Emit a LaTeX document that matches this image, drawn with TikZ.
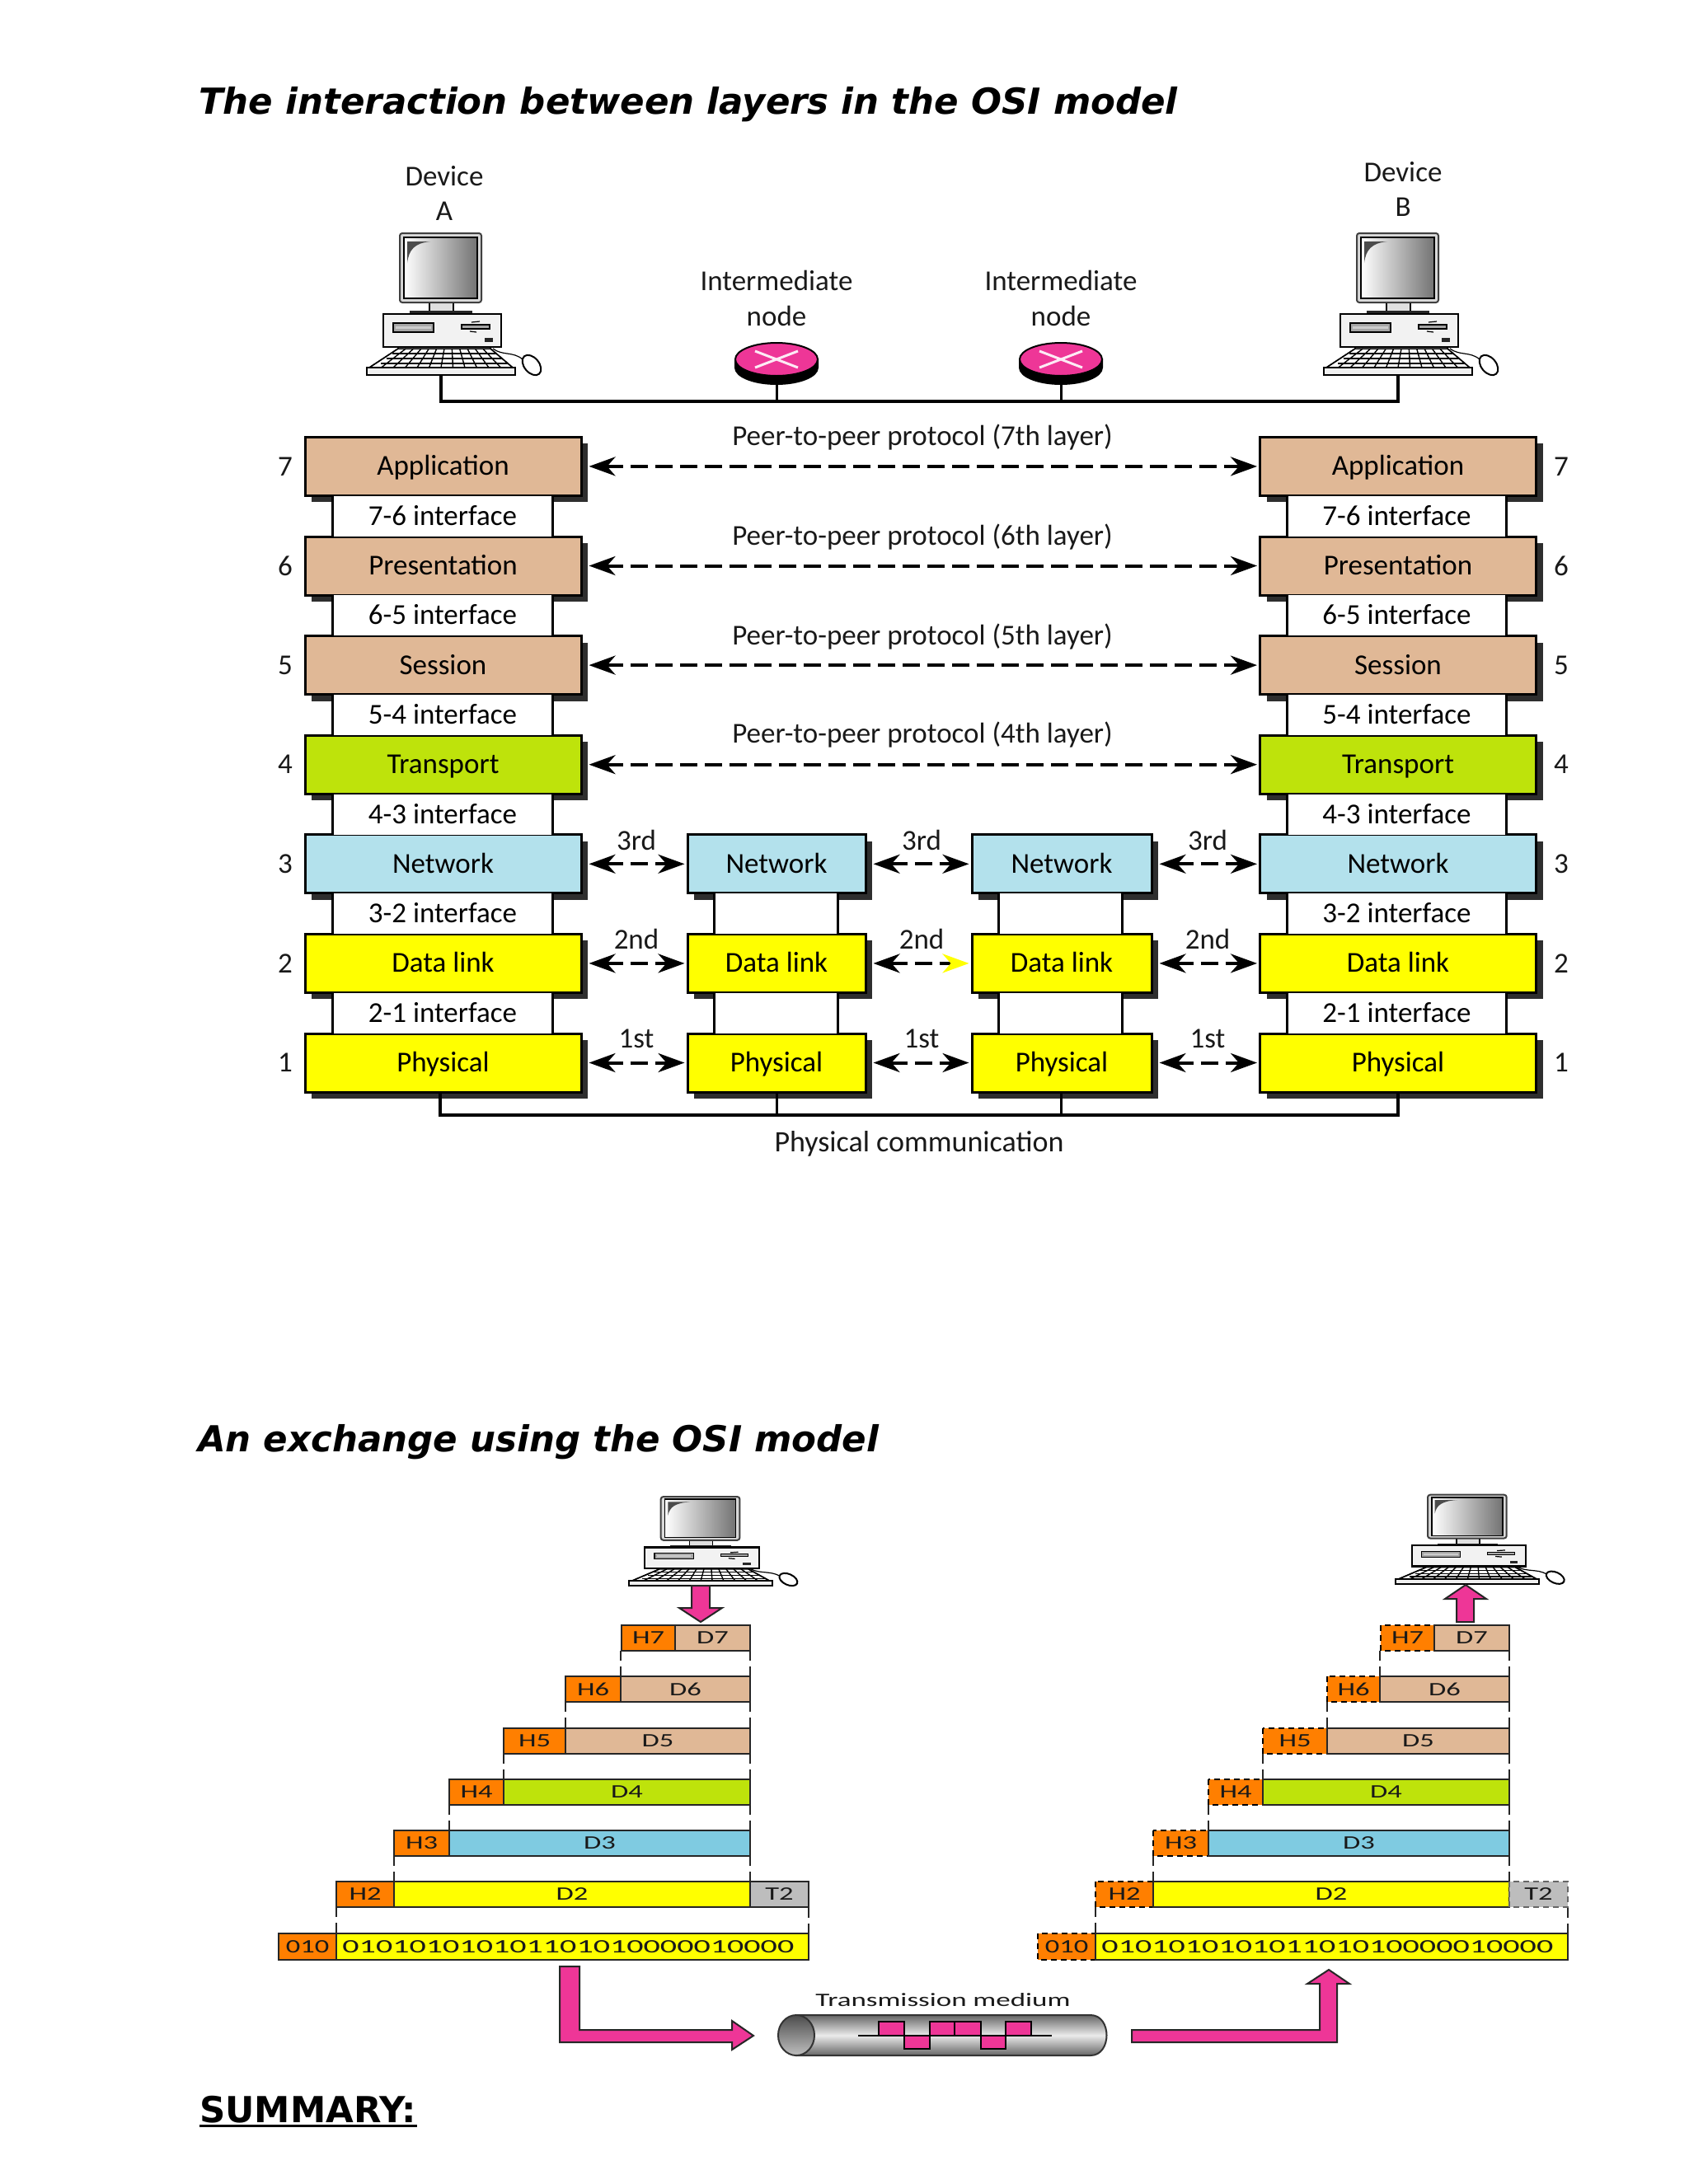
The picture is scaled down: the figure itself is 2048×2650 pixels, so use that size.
\documentclass[tikz,border=0pt]{standalone}
\usepackage{fontspec}
\setmainfont{Carlito}
\newfontfamily\dvfont{DejaVu Sans}
\usetikzlibrary{arrows.meta,shadows}
\definecolor{ctan}{HTML}{E0B896}
\definecolor{clime}{HTML}{BEE30B}
\definecolor{cblue}{HTML}{B3E1EC}
\definecolor{cyel}{HTML}{FFFF00}
\definecolor{corg}{HTML}{FF7F00}
\definecolor{cdthree}{HTML}{7FCBE1}
\definecolor{cgry}{HTML}{BDBDBD}
\definecolor{cpink}{HTML}{EE3697}
\tikzset{
  txt/.style={font=\fontsize{35}{42}\selectfont,inner sep=0pt,align=center,text=black!90},
  head/.style={font=\dvfont\bfseries\itshape\fontsize{43.5}{50}\selectfont,inner sep=0pt,anchor=west},
  layer/.style={draw=black,line width=3pt,minimum height=71pt,inner sep=0pt,
    font=\fontsize{35}{42}\selectfont,text height=26pt,text depth=4pt,
    drop shadow={shadow xshift=8pt,shadow yshift=-8pt,fill=black!82,opacity=1}},
  iface/.style={fill=white,inner sep=0pt,minimum height=49pt,font=\fontsize{35}{42}\selectfont,text height=26pt,text depth=4pt},
  wire/.style={line width=3pt,black},
  bus/.style={line width=4pt,black},
  peer/.style={line width=4pt,dash pattern=on 21pt off 9pt,shorten <=8pt,shorten >=2pt},
  cell/.style={draw=black!85,line width=2pt},
  hplain/.style={fill=corg,draw=black!85,line width=2pt},
  hdash/.style={fill=corg,draw=black,line width=2.5pt,dash pattern=on 7pt off 5pt},
  tdash/.style={fill=cgry,draw=black!60,line width=2.5pt,dash pattern=on 7pt off 5pt},
  lbl/.style={font=\fontsize{23}{26}\selectfont,xscale=1.5,inner sep=0pt,text=black!90},
  bits/.style={font=\fontsize{23}{26}\selectfont,xscale=1.74,xshift=-3pt,inner sep=0pt,text=black!90},
  tick/.style={line width=2pt,black!85},
  pinkarrow/.style={fill=cpink,draw=black!85,line width=2pt,line join=miter},
  ptips/.style={{Stealth[length=32pt,width=23pt,inset=10pt]}-{Stealth[length=32pt,width=23pt,inset=10pt]}},
}
\newcommand{\pcdraw}{%
  \draw[line width=1.5pt,fill=black!12] (521,367) rectangle (550,378);
  \fill[black!85] (497,377) rectangle (573,382);
  \draw[line width=2pt,draw=black!75,fill=black!15,rounded corners=3pt] (485,283) rectangle (584,367);
  \draw[line width=1.5pt,left color=white,right color=black!55] (490,288) rectangle (579,362);
  \fill[black!70] (494,293) -- (522,293) .. controls (503,295) and (496,303) .. (494,319) -- cycle;
  \draw[line width=2.2pt,fill=black!5] (465,381) rectangle (608,421);
  \draw[line width=1.2pt,fill=black!35] (477,392) rectangle (526,403);
  \fill[black!20] (480,396) rectangle (523,399);
  \draw[line width=1.2pt,fill=black!35] (560,394) rectangle (594,399);
  \draw[line width=1.2pt] (572,391) -- (582,390) (570,402) -- (578,403);
  \fill[black!85] (588,410) rectangle (598,415);
  \draw[line width=1.5pt] (483,421) -- (483,425) (595,421) -- (595,425);
  \draw[line width=1.5pt,fill=white] (483,423) -- (595,423) -- (622,446) -- (448,446) -- cycle;
  \foreach \i in {0,...,12} {
    \draw[line width=1.4pt] ({483+\i*112/12},423) -- ({448+\i*174/12},446);
  }
  \draw[line width=1.4pt] (476,429) -- (602,429) (469,435) -- (609,435) (462,441) -- (616,441);
  \draw[line width=2pt,fill=black!6] (445,446) rectangle (625,455);
  \draw[line width=1.2pt] (598,423) .. controls (610,432) and (622,426) .. (634,436);
  \draw[line width=2pt,fill=white,rotate around={-50:(645,443)}] (645,443) ellipse [x radius=14,y radius=9];
}
\newcommand{\router}[2]{%
  \draw[line width=2pt,fill=black] (#1-50,#2+10) arc[start angle=180,end angle=360,x radius=50,y radius=-20] -- ++(0,-10) -- (#1-50,#2) -- cycle;
  \draw[line width=2pt,fill=cpink] (#1,#2) ellipse [x radius=50,y radius=20];
  \draw[line width=3pt,white!90!cpink] (#1-26,#2-10) -- (#1+26,#2+10) (#1-26,#2+10) -- (#1+26,#2-10);
}
\newcommand{\ticks}[2]{%
  \draw[tick] (#1,#2) -- (#1,#2+12) (#1,#2+19) -- (#1,#2+31);
}
\newcommand{\stack}[4]{% prefix, header style, trailer style, H6 left edge
  \draw[#2] (754,1972) rectangle (819,2003) node[midway,lbl] (#1h7) {H7};
  \draw[cell,fill=ctan] (819,1972) rectangle (910,2003) node[midway,lbl] (#1d7) {D7};
  \draw[#2] (#4,2034) rectangle (753,2065) node[midway,lbl] (#1h6) {H6};
  \draw[cell,fill=ctan] (753,2034) rectangle (910,2065) node[midway,lbl] (#1d6) {D6};
  \draw[#2] (611,2097) rectangle (#4,2128) node[midway,lbl] (#1h5) {H5};
  \draw[cell,fill=ctan] (#4,2097) rectangle (910,2128) node[midway,lbl] (#1d5) {D5};
  \draw[#2] (545,2159) rectangle (611,2190) node[midway,lbl] (#1h4) {H4};
  \draw[cell,fill=clime] (611,2159) rectangle (910,2190) node[midway,lbl] (#1d4) {D4};
  \draw[#2] (478,2221) rectangle (545,2252) node[midway,lbl] (#1h3) {H3};
  \draw[cell,fill=cdthree] (545,2221) rectangle (910,2252) node[midway,lbl] (#1d3) {D3};
  \draw[#2] (408,2283) rectangle (478,2314) node[midway,lbl] (#1h2) {H2};
  \draw[cell,fill=cyel] (478,2283) rectangle (910,2314) node[midway,lbl] (#1d2) {D2};
  \draw[#3] (910,2283) rectangle (981,2314) node[midway,lbl] (#1t2) {T2};
  \draw[#2] (338,2346) rectangle (408,2378) node[midway,lbl] (#1h1) {010};
  \draw[cell,fill=cyel] (408,2346) rectangle (981,2378) node[midway,bits] (#1d1) {010101010101101010000010000};
  \ticks{753}{2003}\ticks{910}{2003}
  \ticks{#4}{2065}\ticks{910}{2065}
  \ticks{611}{2128}\ticks{910}{2128}
  \ticks{545}{2190}\ticks{910}{2190}
  \ticks{478}{2252}\ticks{910}{2252}
  \ticks{408}{2314}\ticks{981}{2315}
}
\begin{document}
\begin{tikzpicture}[x=1pt,y=-1pt]
\useasboundingbox (0,0) rectangle (2048,2650);
\fill[white] (0,0) rectangle (2048,2650);
% headings
\node[head] (title1) at (241,127) {The interaction between layers in the OSI model};
\node[head] (title2) at (240,1750) {An exchange using the OSI model};
% computers
\begin{scope}\pcdraw\end{scope}
\begin{scope}[shift={(1161,0)}]\pcdraw\end{scope}
\node[txt] (devA) at (539,214) {Device};
\node[txt] (devAb) at (539,256) {A};
\node[txt] (devB) at (1702,209) {Device};
\node[txt] (devBb) at (1702,251) {B};
\node[txt] (int1) at (942,340) {Intermediate};
\node[txt] (int1b) at (942,383) {node};
\node[txt] (int2) at (1287,340) {Intermediate};
\node[txt] (int2b) at (1287,383) {node};
% top bus
\coordinate (pcA) at (535,455);
\coordinate (pcB) at (1696,455);
\coordinate (r1) at (942,462);
\coordinate (r2) at (1287,462);
\draw[bus] (pcA) |- (pcB |- 0,487) -- (pcB);
\draw[wire] (r1) -- (r1 |- 0,487);
\draw[wire] (r2) -- (r2 |- 0,487);
\router{942}{436}
\router{1287}{436}
% layers
\foreach \n/\t/\c in {7/Application/ctan,6/Presentation/ctan,5/Session/ctan,4/Transport/clime,3/Network/cblue,2/Data link/cyel,1/Physical/cyel} {
  \pgfmathsetmacro{\yy}{1289.5-(\n-1)*120.6}
  \node[layer,fill=\c,minimum width=335pt] (a\n) at (537.5,\yy) {\t};
  \node[layer,fill=\c,minimum width=335pt] (b\n) at (1696,\yy) {\t};
  \node[txt] (na\n) at (346,\yy) {\n};
  \node[txt] (nb\n) at (1894,\yy) {\n};
}
\foreach \n/\t/\c in {3/Network/cblue,2/Data link/cyel,1/Physical/cyel} {
  \pgfmathsetmacro{\yy}{1289.5-(\n-1)*120.6}
  \node[layer,fill=\c,minimum width=216pt] (m\n) at (942,\yy) {\t};
  \node[layer,fill=\c,minimum width=218pt] (p\n) at (1288,\yy) {\t};
}
% interfaces
\foreach \n/\t in {7/7-6 interface,6/6-5 interface,5/5-4 interface,4/4-3 interface,3/3-2 interface,2/2-1 interface} {
  \pgfmathsetmacro{\yy}{1289.5-(\n-1)*120.6+60.3}
  \node[iface,minimum width=266pt] (ia\n) at (537,\yy) {\t};
  \node[iface,minimum width=266pt] (ib\n) at (1694.5,\yy) {\t};
  \draw[wire] (ia\n.north west) -- (ia\n.south west);
  \draw[wire] (ia\n.north east) -- (ia\n.south east);
  \draw[wire] (ib\n.north west) -- (ib\n.south west);
  \draw[wire] (ib\n.north east) -- (ib\n.south east);
}
\foreach \n in {3,2} {
  \pgfmathsetmacro{\yy}{1289.5-(\n-1)*120.6+60.3}
  \node[iface,minimum width=149pt] (im\n) at (941.5,\yy) {};
  \node[iface,minimum width=149pt] (ip\n) at (1286.5,\yy) {};
  \draw[wire] (im\n.north west) -- (im\n.south west);
  \draw[wire] (im\n.north east) -- (im\n.south east);
  \draw[wire] (ip\n.north west) -- (ip\n.south west);
  \draw[wire] (ip\n.north east) -- (ip\n.south east);
}
% peer arrows
\foreach \n/\yy/\t in {7/531/7th,6/652/6th,5/773/5th,4/892/4th} {
  \draw[peer,ptips] (a\n) -- (b\n);
  \node[txt] (pl\n) at (1119,\yy) {Peer-to-peer protocol (\t\ layer)};
}
\foreach \n in {3,2,1} {
  \draw[peer,ptips] (a\n) -- (m\n);
  \draw[peer,ptips] (p\n) -- (b\n);
}
\draw[peer,ptips] (m3) -- (p3);
\draw[peer,{Stealth[length=32pt,width=23pt,inset=10pt]}-{Stealth[length=32pt,width=23pt,inset=10pt,color=cyel]}] (m2) -- (p2);
\draw[peer,ptips] (m1) -- (p1);
\foreach \nm/\xx in {u/772,v/1118,w/1465} {
  \node[txt] (\nm3) at (\xx,1019) {3rd};
  \node[txt] (\nm2) at (\xx,1139) {2nd};
  \node[txt] (\nm1) at (\xx,1260) {1st};
}
% bottom bus
\coordinate (busA) at (534,1325);
\coordinate (busB) at (1696,1325);
\coordinate (busM) at (942,1325);
\coordinate (busP) at (1287,1325);
\draw[bus] (busA) |- (busB |- 0,1353) -- (busB);
\draw[wire] (busM) -- (busM |- 0,1353);
\draw[wire] (busP) -- (busP |- 0,1353);
\node[txt,font=\fontsize{36}{42}\selectfont] (physcom) at (1115,1388) {Physical communication};
% second figure
\begin{scope}[shift={(332.7,1638.3)},xscale=.967,yscale=.628]\pcdraw\end{scope}
\begin{scope}[shift={(1263,1636)},xscale=.967,yscale=.628]\pcdraw\end{scope}
\draw[pinkarrow] (839,1924) -- (861,1924) -- (861,1951) -- (876,1951) -- (850,1968) -- (824,1951) -- (839,1951) -- cycle;
\draw[pinkarrow] (1767,1968) -- (1788,1968) -- (1788,1940) -- (1803,1940) -- (1778,1923) -- (1753,1940) -- (1767,1940) -- cycle;
\stack{l}{hplain}{cell,fill=cgry}{686}
\begin{scope}[shift={(921,0)}]
\stack{r}{hdash}{tdash}{689}
\end{scope}
% medium
\draw[pinkarrow] (679,2386) -- (703,2386) -- (703,2463) -- (888,2463) -- (888,2452) -- (914,2470) -- (888,2487) -- (888,2478) -- (679,2478) -- cycle;
\draw[pinkarrow] (1373,2463) -- (1601,2463) -- (1601,2407) -- (1586,2407) -- (1612,2390) -- (1637,2407) -- (1622,2407) -- (1622,2478) -- (1373,2478) -- cycle;
\node[font=\fontsize{23}{26}\selectfont,xscale=1.52,inner sep=0pt,text=black!90] (medium) at (1144,2427) {Transmission medium};
\draw[line width=2pt,black!80,top color=black!60,bottom color=black!60,middle color=black!8]
  (966,2445) -- (1323,2445) .. controls (1349,2445) and (1349,2494) .. (1323,2494) -- (966,2494) -- cycle;
\draw[line width=2pt,black!80,top color=black!70,bottom color=black!25] (966,2469.5) ellipse [x radius=22,y radius=24.5];
\draw[line width=2pt,fill=cpink] (1066,2470) -- (1066,2453) -- (1097,2453) -- (1097,2486) -- (1128,2486) -- (1128,2453) -- (1190,2453) -- (1190,2486) -- (1220,2486) -- (1220,2453) -- (1251,2453) -- (1251,2470) -- cycle;
\draw[line width=2pt] (1158,2453) -- (1158,2470);
\draw[line width=2pt] (1041,2470) -- (1276,2470);
% summary
\node[font=\dvfont\bfseries\fontsize{43.5}{50}\selectfont,inner sep=0pt,anchor=south west,text depth=0pt] (summary) at (242,2576) {SUMMARY:};
\draw[line width=3pt] ([yshift=-3pt]summary.south west) -- ([yshift=-3pt]summary.south east);
\end{tikzpicture}
\end{document}
